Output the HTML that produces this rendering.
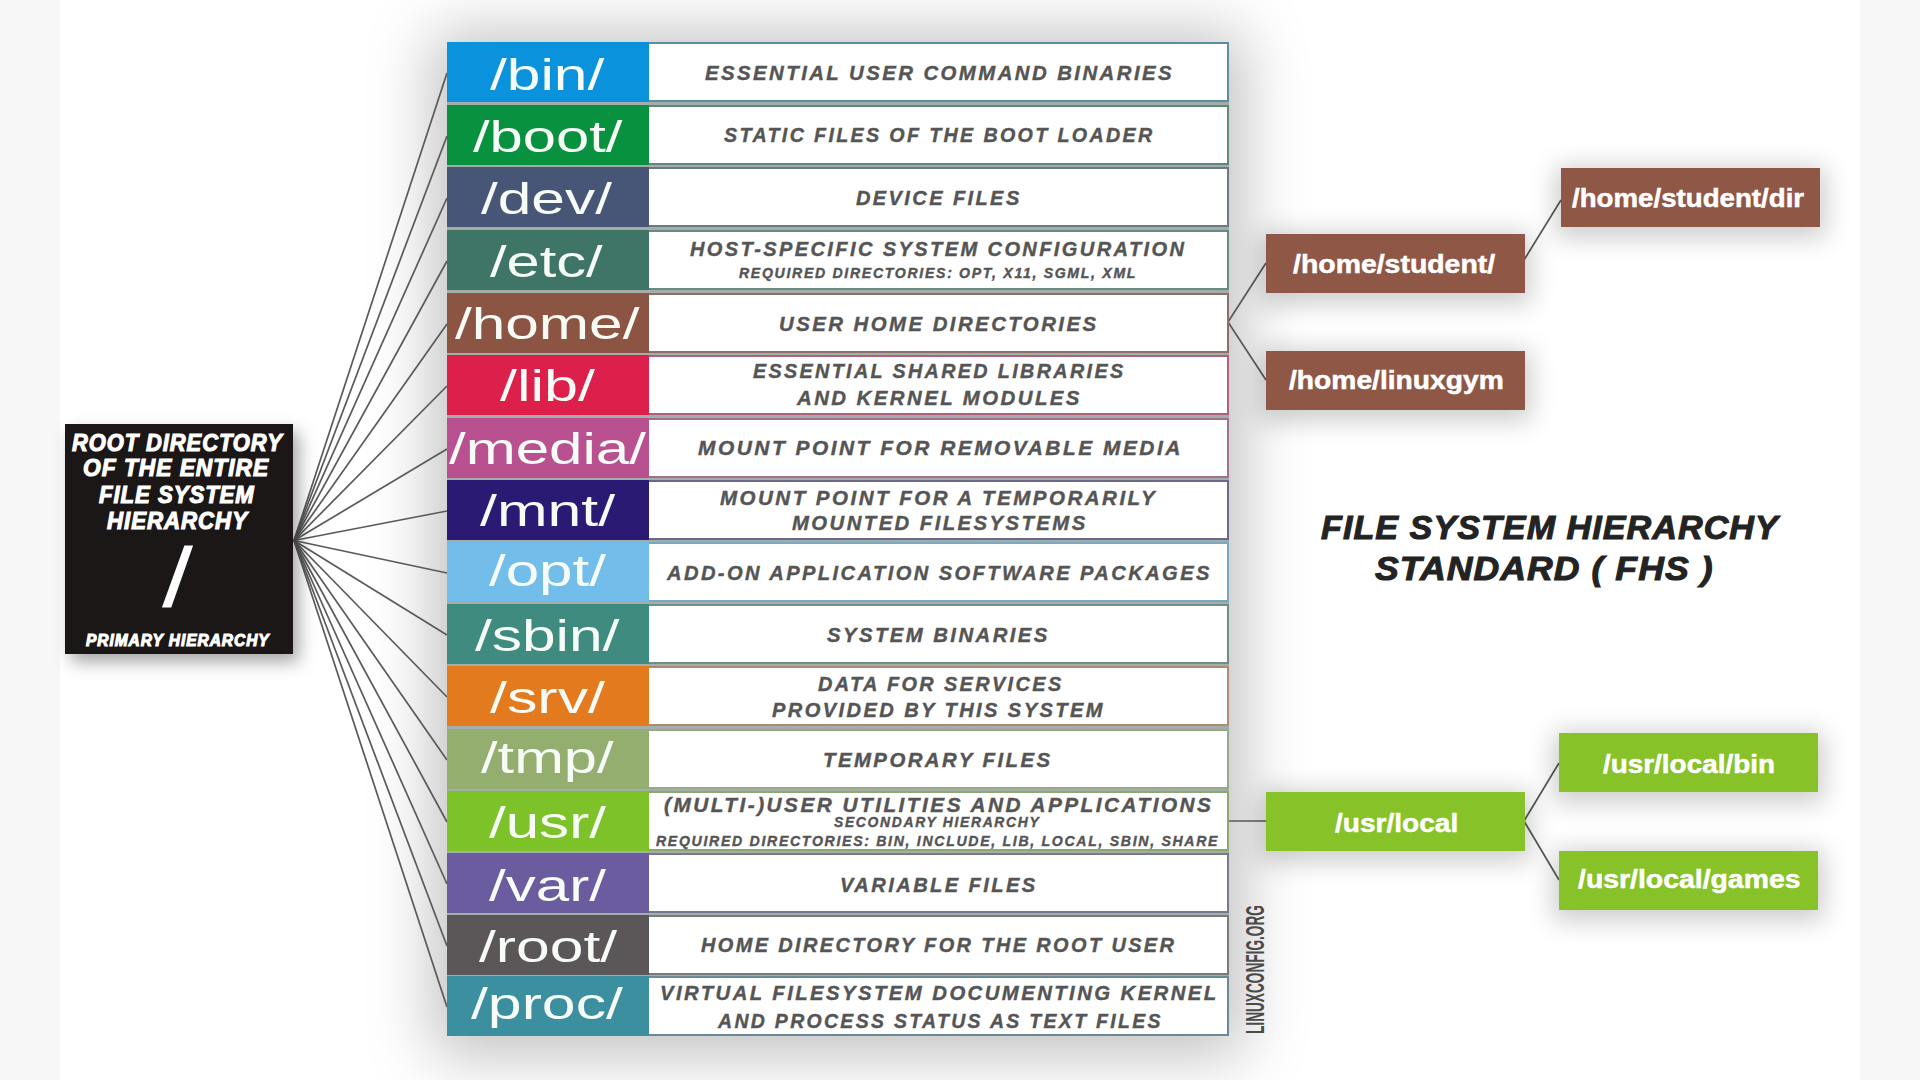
<!DOCTYPE html><html><head><meta charset="utf-8"><title>FHS</title><style>
*{margin:0;padding:0;box-sizing:border-box}
html,body{width:1920px;height:1080px;overflow:hidden;background:#fff;font-family:"Liberation Sans",sans-serif}
.strip{position:absolute;top:0;width:60px;height:1080px;background:#f7f7f7}
.ab{position:absolute}
.tx{position:absolute;white-space:nowrap;line-height:1;transform-origin:0 0}
.tshadow{position:absolute;left:447px;top:42px;width:782px;height:994px;box-shadow:0 5px 60px 14px rgba(0,0,0,0.25);background:#a3adaa}
.dir{position:absolute;left:447px;width:202px;height:60px}
.desc{position:absolute;left:649px;width:580px;height:60px;background:#fff;border:2px solid #888;border-left:none}
.dt{color:#555;font-weight:bold;font-style:italic;letter-spacing:0.12em;-webkit-text-stroke:0.4px #555}
.nt{color:#f6fbf6}
.root{position:absolute;left:65px;top:424px;width:228px;height:230px;background:#1b1716;box-shadow:6px 8px 16px rgba(0,0,0,0.35)}
.rt{color:#fff;font-weight:bold;font-style:italic;letter-spacing:1px;-webkit-text-stroke:1.1px #fff}
.box{position:absolute;width:259px;height:59px;box-shadow:0 5px 26px 6px rgba(0,0,0,0.2)}
.bt{color:#fff;font-weight:bold;-webkit-text-stroke:0.5px #fff}
.brown{background:#8f5746}
.green{background:#86c228}
.tt{color:#232323;font-weight:bold;font-style:italic;letter-spacing:1px;-webkit-text-stroke:1px #232323}
.vtext{position:absolute;white-space:nowrap;line-height:1;transform-origin:0 0;color:#4a4a4a;font-weight:bold}
</style></head><body>
<div class="strip" style="left:0"></div><div class="strip" style="left:1860px"></div>
<div class="tshadow"></div>
<svg class="ab" style="left:0;top:0" width="1920" height="1080" viewBox="0 0 1920 1080"><line x1="294" y1="540.5" x2="447" y2="73" stroke="#5a5a5a" stroke-width="1.7"/><line x1="294" y1="540.5" x2="447" y2="136" stroke="#5a5a5a" stroke-width="1.7"/><line x1="294" y1="540.5" x2="447" y2="198" stroke="#5a5a5a" stroke-width="1.7"/><line x1="294" y1="540.5" x2="447" y2="261" stroke="#5a5a5a" stroke-width="1.7"/><line x1="294" y1="540.5" x2="447" y2="324" stroke="#5a5a5a" stroke-width="1.7"/><line x1="294" y1="540.5" x2="447" y2="386" stroke="#5a5a5a" stroke-width="1.7"/><line x1="294" y1="540.5" x2="447" y2="449" stroke="#5a5a5a" stroke-width="1.7"/><line x1="294" y1="540.5" x2="447" y2="511" stroke="#5a5a5a" stroke-width="1.7"/><line x1="294" y1="540.5" x2="447" y2="573" stroke="#5a5a5a" stroke-width="1.7"/><line x1="294" y1="540.5" x2="447" y2="635" stroke="#5a5a5a" stroke-width="1.7"/><line x1="294" y1="540.5" x2="447" y2="697" stroke="#5a5a5a" stroke-width="1.7"/><line x1="294" y1="540.5" x2="447" y2="760" stroke="#5a5a5a" stroke-width="1.7"/><line x1="294" y1="540.5" x2="447" y2="822" stroke="#5a5a5a" stroke-width="1.7"/><line x1="294" y1="540.5" x2="447" y2="884" stroke="#5a5a5a" stroke-width="1.7"/><line x1="294" y1="540.5" x2="447" y2="946" stroke="#5a5a5a" stroke-width="1.7"/><line x1="294" y1="540.5" x2="447" y2="1007" stroke="#5a5a5a" stroke-width="1.7"/><line x1="1228" y1="322" x2="1266" y2="263" stroke="#5a5a5a" stroke-width="1.7"/><line x1="1228" y1="322" x2="1266" y2="380" stroke="#5a5a5a" stroke-width="1.7"/><line x1="1524" y1="260" x2="1561" y2="200" stroke="#5a5a5a" stroke-width="1.7"/><line x1="1228" y1="821" x2="1266" y2="821" stroke="#5a5a5a" stroke-width="1.7"/><line x1="1524" y1="821" x2="1559" y2="763" stroke="#5a5a5a" stroke-width="1.7"/><line x1="1524" y1="821" x2="1559" y2="880" stroke="#5a5a5a" stroke-width="1.7"/></svg>
<div class="dir" style="top:42px;background:#0a93dc"></div>
<div class="desc" style="top:42px;border-color:#5a8ea0"></div>
<div class="dir" style="top:105px;background:#08913f"></div>
<div class="desc" style="top:105px;border-color:#5f8a78"></div>
<div class="dir" style="top:167px;background:#475677"></div>
<div class="desc" style="top:167px;border-color:#6a7888"></div>
<div class="dir" style="top:230px;background:#3f7566"></div>
<div class="desc" style="top:230px;border-color:#6a8a80"></div>
<div class="dir" style="top:293px;background:#8b5443"></div>
<div class="desc" style="top:293px;border-color:#8a7068"></div>
<div class="dir" style="top:355px;background:#dc1f4b"></div>
<div class="desc" style="top:355px;border-color:#b06078"></div>
<div class="dir" style="top:418px;background:#b9508f"></div>
<div class="desc" style="top:418px;border-color:#a07090"></div>
<div class="dir" style="top:480px;background:#2b1a73"></div>
<div class="desc" style="top:480px;border-color:#6a6a88"></div>
<div class="dir" style="top:542px;background:#72bde9"></div>
<div class="desc" style="top:542px;border-color:#7aa8c0"></div>
<div class="dir" style="top:604px;background:#3f8b7f"></div>
<div class="desc" style="top:604px;border-color:#6a9088"></div>
<div class="dir" style="top:666px;background:#e37b1e"></div>
<div class="desc" style="top:666px;border-color:#b08a70"></div>
<div class="dir" style="top:729px;background:#93ae6f"></div>
<div class="desc" style="top:729px;border-color:#98a888"></div>
<div class="dir" style="top:791px;background:#7ec22a"></div>
<div class="desc" style="top:791px;border-color:#8aa870"></div>
<div class="dir" style="top:853px;background:#6b5b9f"></div>
<div class="desc" style="top:853px;border-color:#7a7890"></div>
<div class="dir" style="top:915px;background:#5b5657"></div>
<div class="desc" style="top:915px;border-color:#7a7a7a"></div>
<div class="dir" style="top:976px;background:#3b8f9f"></div>
<div class="desc" style="top:976px;border-color:#6a8a98"></div>
<div class="tx nt" style="left:489.8px;top:51.7px;font-size:45px;transform:scaleX(1.3435)">/bin/</div>
<div class="tx nt" style="left:472.5px;top:113.75px;font-size:45px;transform:scaleX(1.3274)">/boot/</div>
<div class="tx nt" style="left:481.0px;top:176.0px;font-size:45px;transform:scaleX(1.3418)">/dev/</div>
<div class="tx nt" style="left:490.0px;top:238.75px;font-size:45px;transform:scaleX(1.3235)">/etc/</div>
<div class="tx nt" style="left:454.8px;top:301.3px;font-size:45px;transform:scaleX(1.3406)">/home/</div>
<div class="tx nt" style="left:500.0px;top:362.5px;font-size:45px;transform:scaleX(1.3571)">/lib/</div>
<div class="tx nt" style="left:448.75px;top:426.25px;font-size:45px;transform:scaleX(1.3345)">/media/</div>
<div class="tx nt" style="left:480.0px;top:487.5px;font-size:45px;transform:scaleX(1.35)">/mnt/</div>
<div class="tx nt" style="left:488.75px;top:547.5px;font-size:45px;transform:scaleX(1.3352)">/opt/</div>
<div class="tx nt" style="left:475.0px;top:612.5px;font-size:45px;transform:scaleX(1.3426)">/sbin/</div>
<div class="tx nt" style="left:490.0px;top:675.0px;font-size:45px;transform:scaleX(1.3529)">/srv/</div>
<div class="tx nt" style="left:481.25px;top:735.0px;font-size:45px;transform:scaleX(1.325)">/tmp/</div>
<div class="tx nt" style="left:488.75px;top:800.0px;font-size:45px;transform:scaleX(1.3352)">/usr/</div>
<div class="tx nt" style="left:488.75px;top:862.5px;font-size:45px;transform:scaleX(1.3352)">/var/</div>
<div class="tx nt" style="left:478.75px;top:923.75px;font-size:45px;transform:scaleX(1.3471)">/root/</div>
<div class="tx nt" style="left:471.25px;top:981.25px;font-size:45px;transform:scaleX(1.3496)">/proc/</div>
<div class="tx dt" style="left:704.6px;top:61.5px;font-size:21px;transform:scaleX(0.9696)">ESSENTIAL USER COMMAND BINARIES</div>
<div class="tx dt" style="left:724.0px;top:123.8px;font-size:21px;transform:scaleX(0.9361)">STATIC FILES OF THE BOOT LOADER</div>
<div class="tx dt" style="left:856.0px;top:187.4px;font-size:21px;transform:scaleX(0.9532)">DEVICE FILES</div>
<div class="tx dt" style="left:690.0px;top:237.5px;font-size:21px;transform:scaleX(0.9537)">HOST-SPECIFIC SYSTEM CONFIGURATION</div>
<div class="tx dt" style="left:738.5px;top:266.3px;font-size:14px;transform:scaleX(1.0064)">REQUIRED DIRECTORIES: OPT, X11, SGML, XML</div>
<div class="tx dt" style="left:779.03px;top:312.6px;font-size:21px;transform:scaleX(0.9711)">USER HOME DIRECTORIES</div>
<div class="tx dt" style="left:752.7px;top:360.0px;font-size:21px;transform:scaleX(0.9393)">ESSENTIAL SHARED LIBRARIES</div>
<div class="tx dt" style="left:796.5px;top:387.0px;font-size:21px;transform:scaleX(0.9708)">AND KERNEL MODULES</div>
<div class="tx dt" style="left:698.0px;top:437.0px;font-size:21px;transform:scaleX(0.9952)">MOUNT POINT FOR REMOVABLE MEDIA</div>
<div class="tx dt" style="left:719.5px;top:487.0px;font-size:21px;transform:scaleX(0.9787)">MOUNT POINT FOR A TEMPORARILY</div>
<div class="tx dt" style="left:792.0px;top:512.0px;font-size:21px;transform:scaleX(0.967)">MOUNTED FILESYSTEMS</div>
<div class="tx dt" style="left:666.6px;top:561.7px;font-size:21px;transform:scaleX(0.9581)">ADD-ON APPLICATION SOFTWARE PACKAGES</div>
<div class="tx dt" style="left:826.7px;top:624.2px;font-size:21px;transform:scaleX(0.9675)">SYSTEM BINARIES</div>
<div class="tx dt" style="left:817.7px;top:672.6px;font-size:21px;transform:scaleX(0.9463)">DATA FOR SERVICES</div>
<div class="tx dt" style="left:772.4px;top:699.0px;font-size:21px;transform:scaleX(0.9561)">PROVIDED BY THIS SYSTEM</div>
<div class="tx dt" style="left:823.26px;top:749.0px;font-size:21px;transform:scaleX(0.9703)">TEMPORARY FILES</div>
<div class="tx dt" style="left:663.51px;top:793.6px;font-size:21px;transform:scaleX(0.9889)">(MULTI-)USER UTILITIES AND APPLICATIONS</div>
<div class="tx dt" style="left:834.3px;top:815.2px;font-size:14px;transform:scaleX(0.9923)">SECONDARY HIERARCHY</div>
<div class="tx dt" style="left:656.0px;top:833.0px;font-size:15px;transform:scaleX(0.9398)">REQUIRED DIRECTORIES: BIN, INCLUDE, LIB, LOCAL, SBIN, SHARE</div>
<div class="tx dt" style="left:839.89px;top:873.6px;font-size:21px;transform:scaleX(0.9574)">VARIABLE FILES</div>
<div class="tx dt" style="left:701.4px;top:934.0px;font-size:21px;transform:scaleX(0.9494)">HOME DIRECTORY FOR THE ROOT USER</div>
<div class="tx dt" style="left:660.07px;top:982.4px;font-size:21px;transform:scaleX(0.9668)">VIRTUAL FILESYSTEM DOCUMENTING KERNEL</div>
<div class="tx dt" style="left:718.0px;top:1009.6px;font-size:21px;transform:scaleX(0.9259)">AND PROCESS STATUS AS TEXT FILES</div>
<div class="root"></div>
<div class="tx rt" style="left:71.9px;top:431.75px;font-size:23px;transform:scaleX(0.9514)">ROOT DIRECTORY</div>
<div class="tx rt" style="left:83.41px;top:457.4px;font-size:23px;transform:scaleX(0.9893)">OF THE ENTIRE</div>
<div class="tx rt" style="left:99.4px;top:484.25px;font-size:23px;transform:scaleX(0.9627)">FILE SYSTEM</div>
<div class="tx rt" style="left:106.9px;top:509.9px;font-size:23px;transform:scaleX(0.9671)">HIERARCHY</div>
<div class="tx rt" style="left:85.6px;top:632.75px;font-size:16px;transform:scaleX(0.9674)">PRIMARY HIERARCHY</div>
<svg class="ab" style="left:0;top:0" width="300" height="700"><polygon points="184.4,545.6 193.1,545.6 171.25,607.5 161.9,607.5" fill="#fff"/></svg>
<div class="box brown" style="left:1266px;top:234px"></div>
<div class="box brown" style="left:1266px;top:351px"></div>
<div class="box brown" style="left:1561px;top:168px"></div>
<div class="box green" style="left:1266px;top:792px"></div>
<div class="box green" style="left:1559px;top:733px"></div>
<div class="box green" style="left:1559px;top:851px"></div>
<div class="tx bt" style="left:1292.8px;top:252.3px;font-size:25px;transform:scaleX(1.1371)">/home/student/</div>
<div class="tx bt" style="left:1288.7px;top:367.6px;font-size:25px;transform:scaleX(1.1286)">/home/linuxgym</div>
<div class="tx bt" style="left:1571.7px;top:186.0px;font-size:25px;transform:scaleX(1.1067)">/home/student/dir</div>
<div class="tx bt" style="left:1334.7px;top:811.0px;font-size:25px;transform:scaleX(1.1222)">/usr/local</div>
<div class="tx bt" style="left:1603.4px;top:752.0px;font-size:25px;transform:scaleX(1.115)">/usr/local/bin</div>
<div class="tx bt" style="left:1578.0px;top:867.3px;font-size:25px;transform:scaleX(1.1354)">/usr/local/games</div>
<div class="tx tt" style="left:1320.87px;top:510.6px;font-size:33px;transform:scaleX(1.0341)">FILE SYSTEM HIERARCHY</div>
<div class="tx tt" style="left:1375.0px;top:551.6px;font-size:33px;transform:scaleX(1.0777)">STANDARD ( FHS )</div>
<div class="vtext" style="left:1241.5px;top:1034.05px;font-size:26px;transform:rotate(-90deg) scaleX(0.5248)">LINUXCONFIG.ORG</div>
</body></html>
